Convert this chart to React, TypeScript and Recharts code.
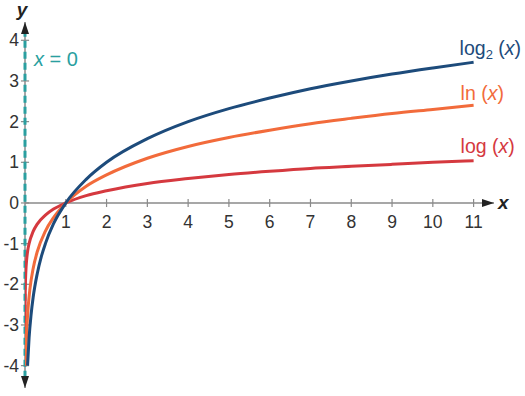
import React from "react";
import { LineChart, Line, XAxis, YAxis, ReferenceLine, ReferenceDot } from "recharts";

// values
const log2X = [0.0625, 0.1, 0.15, 0.2, 0.3, 0.4, 0.5, 0.7, 1, 1.5, 2, 3, 4, 5, 6, 7, 8, 9, 10, 11];
const log2Y = [-4, -3.32, -2.74, -2.32, -1.74, -1.32, -1, -0.51, 0, 0.58, 1, 1.58, 2, 2.32, 2.58, 2.81, 3, 3.17, 3.32, 3.46];

const lnX = [0.018, 0.03, 0.05, 0.08, 0.12, 0.2, 0.3, 0.5, 0.7, 1, 1.5, 2, 3, 4, 5, 6, 7, 8, 9, 10, 11];
const lnY = [-4, -3.51, -3.0, -2.53, -2.12, -1.61, -1.2, -0.69, -0.36, 0, 0.41, 0.69, 1.1, 1.39, 1.61, 1.79, 1.95, 2.08, 2.2, 2.3, 2.4];

const logX = [0.0001, 0.001, 0.005, 0.01, 0.02, 0.04, 0.07, 0.1, 0.2, 0.3, 0.5, 0.7, 1, 1.5, 2, 3, 4, 5, 6, 7, 8, 9, 10, 11];
const logY = [-4, -3, -2.3, -2, -1.7, -1.4, -1.15, -1, -0.7, -0.52, -0.3, -0.15, 0, 0.18, 0.3, 0.48, 0.6, 0.7, 0.78, 0.85, 0.9, 0.95, 1.0, 1.04];

const xTicks = [1, 2, 3, 4, 5, 6, 7, 8, 9, 10, 11];
const yTicks = [-4, -3, -2, -1, 0, 1, 2, 3, 4];

const xDomain = [0, 11.5];
const yDomain = [-4.55, 4.45];

const toRows = (xs: number[], ys: number[]) => xs.map((x, i) => ({ x, y: ys[i] }));

const BLUE = "#1d4b7b";
const ORANGE = "#f26b3b";
const RED = "#d5393f";
const TEAL = "#2a9fa0";
const AXIS = "#8a8a8a";
const TEXT = "#333333";
const FONT = "Liberation Sans, Arial, sans-serif";

export default function App() {
  const tickLabel = { fontFamily: FONT, fontSize: 17.5, fill: TEXT };
  const curveLabel = { fontFamily: FONT, fontSize: 19.5 };

  return (
    <div style={{ position: "absolute", left: 0, top: 0, background: "#fff" }}>
      <LineChart width={525} height={396} margin={{ top: 22, right: 31, bottom: 8, left: 25 }}>
        <XAxis type="number" dataKey="x" domain={xDomain} hide allowDataOverflow />
        <YAxis type="number" dataKey="y" domain={yDomain} hide allowDataOverflow />

        {/* axes */}
        <ReferenceLine y={0} stroke={AXIS} strokeWidth={1.5} />
        <ReferenceLine x={0} stroke={AXIS} strokeWidth={1.5} />
        {xTicks.map((t) => (
          <ReferenceLine
            key={"xt" + t}
            segment={[{ x: t, y: -0.1 }, { x: t, y: 0.1 }]}
            stroke={AXIS}
            strokeWidth={1.2}
          />
        ))}
        {yTicks.map((t) => (
          <ReferenceLine
            key={"yt" + t}
            segment={[{ x: -0.1, y: t }, { x: 0.1, y: t }]}
            stroke={AXIS}
            strokeWidth={1.2}
            ifOverflow="visible"
          />
        ))}
        {xTicks.map((t) => (
          <ReferenceDot
            key={"xl" + t}
            x={t}
            y={0}
            r={0}
            shape={(p: any) => (
              <text x={p.cx} y={p.cy + 25} textAnchor="middle" {...tickLabel}>
                {t}
              </text>
            )}
          />
        ))}
        {yTicks.map((t) => (
          <ReferenceDot
            key={"yl" + t}
            x={0}
            y={t}
            r={0}
            shape={(p: any) => (
              <text x={p.cx - 6} y={p.cy + 6} textAnchor="end" {...tickLabel}>
                {t < 0 ? "-" + Math.abs(t) : t}
              </text>
            )}
          />
        ))}

        {/* x = 0 asymptote */}
        <ReferenceLine
          segment={[{ x: 0, y: -4.3 }, { x: 0, y: 4.25 }]}
          stroke={TEAL}
          strokeWidth={3}
          strokeDasharray="7 4"
        />

        <Line data={toRows(logX, logY)} dataKey="y" type="monotone" stroke={RED} strokeWidth={3} dot={false} isAnimationActive={false} />
        <Line data={toRows(lnX, lnY)} dataKey="y" type="monotone" stroke={ORANGE} strokeWidth={3} dot={false} isAnimationActive={false} />
        <Line data={toRows(log2X, log2Y)} dataKey="y" type="monotone" stroke={BLUE} strokeWidth={3} dot={false} isAnimationActive={false} />

        {/* arrows and axis names */}
        <ReferenceDot
          x={0}
          y={yDomain[1]}
          r={0}
          shape={(p: any) => (
            <g>
              <polygon points={`${p.cx},${p.cy} ${p.cx - 4},${p.cy + 12} ${p.cx + 4},${p.cy + 12}`} fill="#222" />
              <text x={p.cx - 3} y={p.cy - 6} textAnchor="middle" fontFamily={FONT} fontSize={19} fontWeight="bold" fontStyle="italic" fill="#222">
                y
              </text>
            </g>
          )}
        />
        <ReferenceDot
          x={0}
          y={yDomain[0]}
          r={0}
          shape={(p: any) => (
            <polygon points={`${p.cx},${p.cy} ${p.cx - 4},${p.cy - 12} ${p.cx + 4},${p.cy - 12}`} fill="#222" />
          )}
        />
        <ReferenceDot
          x={xDomain[1]}
          y={0}
          r={0}
          shape={(p: any) => (
            <g>
              <polygon points={`${p.cx},${p.cy} ${p.cx - 12},${p.cy - 4} ${p.cx - 12},${p.cy + 4}`} fill="#222" />
              <text x={p.cx + 4} y={p.cy + 6} fontFamily={FONT} fontSize={19} fontWeight="bold" fontStyle="italic" fill="#222">
                x
              </text>
            </g>
          )}
        />

        {/* labels */}
        <ReferenceDot
          x={0}
          y={4}
          r={0}
          shape={(p: any) => (
            <text x={p.cx + 9} y={p.cy + 26} fontFamily={FONT} fontSize={20} fill={TEAL}>
              <tspan fontStyle="italic">x</tspan> = 0
            </text>
          )}
        />
        <ReferenceDot
          x={11}
          y={log2Y[log2Y.length - 1]}
          r={0}
          shape={(p: any) => (
            <text x={p.cx - 14} y={p.cy - 7} {...curveLabel} fill={BLUE}>
              log<tspan fontSize={13} dy={4}>2</tspan>
              <tspan dy={-4}> (</tspan>
              <tspan fontStyle="italic">x</tspan>)
            </text>
          )}
        />
        <ReferenceDot
          x={11}
          y={lnY[lnY.length - 1]}
          r={0}
          shape={(p: any) => (
            <text x={p.cx - 13} y={p.cy - 5} {...curveLabel} fill={ORANGE}>
              ln (<tspan fontStyle="italic">x</tspan>)
            </text>
          )}
        />
        <ReferenceDot
          x={11}
          y={logY[logY.length - 1]}
          r={0}
          shape={(p: any) => (
            <text x={p.cx - 13} y={p.cy - 8} {...curveLabel} fill={RED}>
              log (<tspan fontStyle="italic">x</tspan>)
            </text>
          )}
        />
      </LineChart>
    </div>
  );
}
